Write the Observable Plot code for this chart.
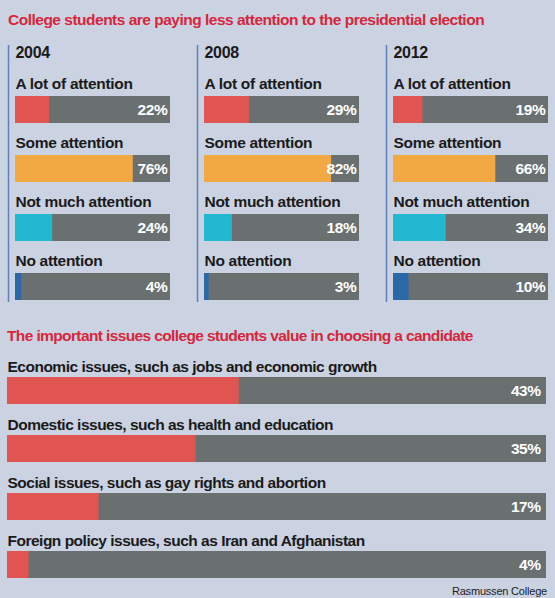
<!DOCTYPE html>
<html>
<head>
<meta charset="utf-8">
<script src="https://cdn.jsdelivr.net/npm/d3@7"></script>
<script src="https://cdn.jsdelivr.net/npm/@observablehq/plot@0.6"></script>
<style>
  html, body { margin: 0; padding: 0; }
  body { width: 555px; height: 598px; background: #cbd2e2; position: relative; overflow: hidden;
         font-family: "Liberation Sans", Arial, sans-serif; }
  .title { position: absolute; left: 8px; font-weight: bold; font-size: 15.5px; line-height: 16px;
           letter-spacing: -0.5px; color: #d6263c; white-space: nowrap; z-index: 2; }
  #t2 { letter-spacing: -0.62px; }
  .caption { position: absolute; right: 8px; top: 586px; font-family: "Liberation Sans", Arial, sans-serif;
             font-size: 11px; line-height: 11px; letter-spacing: -0.2px; color: #222; z-index: 2; }
  .plotbox { position: absolute; left: 0; z-index: 1; }
  .plotbox svg { background: transparent !important; }
  #top svg text { letter-spacing: -0.3px; }
  #bottom svg text { letter-spacing: -0.5px; }
</style>
</head>
<body>
<div class="title" id="t1" style="top:12px">College students are paying less attention to the presidential election</div>
<div class="plotbox" id="top" style="top:30px"></div>
<div class="title" id="t2" style="top:328px; left:7px">The important issues college students value in choosing a candidate</div>
<div class="plotbox" id="bottom" style="top:340px"></div>
<div class="caption">Rasmussen College</div>
<script>
// ---- data ----
const years = ["2004", "2008", "2012"];
const attentionLevels = ["A lot of attention", "Some attention", "Not much attention", "No attention"];
const values2004 = [22, 76, 24, 4];
const values2008 = [29, 82, 18, 3];
const values2012 = [19, 66, 34, 10];
const attentionColors = ["#e05551", "#f2a944", "#22b8cf", "#2a68a8"];

const issues = [
  "Economic issues, such as jobs and economic growth",
  "Domestic issues, such as health and education",
  "Social issues, such as gay rights and abortion",
  "Foreign policy issues, such as Iran and Afghanistan"
];
const issueValues = [43, 35, 17, 4];
const issueColor = "#e05551";
const trackColor = "#6a7070";

// ---- build tables ----
const byYear = {"2004": values2004, "2008": values2008, "2012": values2012};
const attentionRows = years.flatMap(year =>
  attentionLevels.map((level, i) => ({year, level, value: byYear[year][i]}))
);
const issueRows = issues.map((issue, i) => ({issue, value: issueValues[i]}));

const font = '"Liberation Sans", Arial, sans-serif';

// ---- top: faceted attention bars ----
const topPlot = Plot.plot({
  width: 555,
  height: 275,
  marginTop: 34,
  marginBottom: 5,
  marginLeft: 15,
  marginRight: 7,
  style: {background: "transparent", fontFamily: font},
  fx: {domain: years, paddingInner: 0.18, paddingOuter: 0, axis: null},
  x: {domain: [0, 100], axis: null},
  y: {domain: attentionLevels, padding: 0, axis: null},
  color: {domain: attentionLevels, range: attentionColors},
  marks: [
    Plot.ruleX(years, {fx: d => d, x: 0, dx: -7, insetTop: -19, insetBottom: -2, stroke: "#5f80b8", strokeWidth: 1.5}),
    Plot.text(years, {fx: d => d, text: d => d, frameAnchor: "top-left", textAnchor: "start",
      lineAnchor: "bottom", dy: -7, fontSize: 16, fontWeight: "bold", fill: "#1a1a1a"}),
    Plot.barX(attentionRows, {fx: "year", y: "level", x1: 0, x2: 100, fill: trackColor, insetTop: 32, insetBottom: 0}),
    Plot.barX(attentionRows, {fx: "year", y: "level", x1: 0, x2: "value", fill: "level", insetTop: 32, insetBottom: 0}),
    Plot.text(attentionRows, {fx: "year", y: "level", x: 0, text: "level", textAnchor: "start",
      lineAnchor: "bottom", dy: -5, fontSize: 15.5, fontWeight: "bold", fill: "#1a1a1a"}),
    Plot.text(attentionRows, {fx: "year", y: "level", x: 100, text: d => d.value + "%", textAnchor: "end",
      lineAnchor: "middle", dx: -3, dy: 16, fontSize: 15.5, fontWeight: "bold", fill: "white"})
  ]
});
document.getElementById("top").appendChild(topPlot);

// ---- bottom: issues bars ----
const bottomPlot = Plot.plot({
  width: 555,
  height: 240,
  marginTop: 6,
  marginBottom: 2,
  marginLeft: 7,
  marginRight: 9,
  style: {background: "transparent", fontFamily: font},
  x: {domain: [0, 100], axis: null},
  y: {domain: issues, padding: 0, axis: null},
  marks: [
    Plot.barX(issueRows, {y: "issue", x1: 0, x2: 100, fill: trackColor, insetTop: 31, insetBottom: 0}),
    Plot.barX(issueRows, {y: "issue", x1: 0, x2: "value", fill: issueColor, insetTop: 31, insetBottom: 0}),
    Plot.text(issueRows, {y: "issue", x: 0, text: "issue", textAnchor: "start",
      lineAnchor: "bottom", dy: -4, fontSize: 15.5, fontWeight: "bold", fill: "#1a1a1a"}),
    Plot.text(issueRows, {y: "issue", x: 100, text: d => d.value + "%", textAnchor: "end",
      lineAnchor: "middle", dx: -6, dy: 15.5, fontSize: 15.5, fontWeight: "bold", fill: "white"})
  ]
});
document.getElementById("bottom").appendChild(bottomPlot);
</script>
</body>
</html>
